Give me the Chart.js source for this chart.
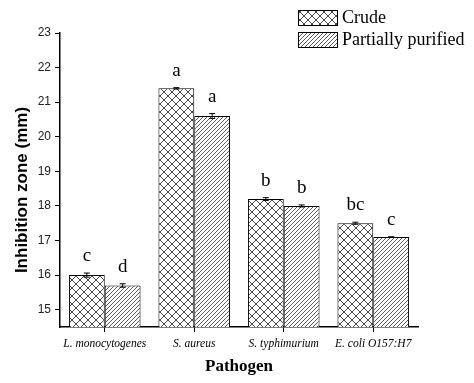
<!DOCTYPE html>
<html><head><meta charset="utf-8">
<script src="https://cdn.jsdelivr.net/npm/chart.js@4"></script>
<style>html,body{margin:0;padding:0;background:#fff;}#wrap{width:474px;height:383px;}</style>
</head><body><div id="wrap"><canvas id="c" width="474" height="383"></canvas></div>
<script>
const categories = ["L. monocytogenes", "S. aureus", "S. typhimurium", "E. coli O157:H7"];
const seriesNames = ["Crude", "Partially purified"];
const crude = [16.0, 21.4, 18.2, 17.5];
const partial = [15.7, 20.6, 18.0, 17.1];
const crudeErr = [0.06, 0.02, 0.04, 0.03];
const partialErr = [0.05, 0.07, 0.03, 0.01];
const crudeLetters = ["c", "a", "b", "bc"];
const partialLetters = ["d", "a", "b", "c"];
const yTicks = [15, 16, 17, 18, 19, 20, 21, 22, 23];
const yTitle = "Inhibition zone (mm)";
const xTitle = "Pathogen";

function makePattern(kind){
  const s = kind === 'cross' ? 8 : 4;
  const cv = document.createElement('canvas'); cv.width = s; cv.height = s;
  const g = cv.getContext('2d');
  g.fillStyle = '#fff'; g.fillRect(0,0,s,s);
  g.strokeStyle = '#333'; g.lineWidth = kind === 'cross' ? 0.9 : 0.8;
  g.beginPath();
  if (kind === 'cross') {
    g.moveTo(-1,-1); g.lineTo(s+1,s+1);
    g.moveTo(-1,s+1); g.lineTo(s+1,-1);
  } else {
    g.moveTo(-1,s+1); g.lineTo(s+1,-1);
    g.moveTo(-1,1); g.lineTo(1,-1);
    g.moveTo(s-1,s+1); g.lineTo(s+1,s-1);
  }
  g.stroke();
  return document.getElementById('c').getContext('2d').createPattern(cv,'repeat');
}
const crossPat = makePattern('cross');
const diagPat = makePattern('diag');

const errLetters = {
  id: 'errLetters',
  afterDatasetsDraw(chart){
    const ctx = chart.ctx, y = chart.scales.y;
    const errs = [crudeErr, partialErr], letters = [crudeLetters, partialLetters], vals = [crude, partial];
    ctx.save();
    for (let d = 0; d < 2; d++){
      const meta = chart.getDatasetMeta(d);
      meta.data.forEach((bar, i) => {
        const x = bar.x;
        const top = y.getPixelForValue(vals[d][i] + errs[d][i]);
        const bot = y.getPixelForValue(vals[d][i] - errs[d][i]);
        ctx.strokeStyle = '#000'; ctx.lineWidth = 1;
        ctx.beginPath();
        ctx.moveTo(x, top); ctx.lineTo(x, bot);
        ctx.moveTo(x-3, top); ctx.lineTo(x+3, top);
        ctx.moveTo(x-3, bot); ctx.lineTo(x+3, bot);
        ctx.stroke();
        ctx.fillStyle = '#000';
        ctx.font = '19px "Liberation Serif", serif';
        ctx.textAlign = 'center'; ctx.textBaseline = 'alphabetic';
        ctx.fillText(letters[d][i], x, top - 12);
      });
    }
    // legend
    const pats = [crossPat, diagPat];
    const ys = [10, 32];
    for (let k = 0; k < 2; k++){
      ctx.fillStyle = pats[k];
      ctx.fillRect(298, ys[k], 39, 15);
      ctx.strokeStyle = '#000'; ctx.lineWidth = 1;
      ctx.strokeRect(298.5, ys[k]+0.5, 39, 15);
      ctx.fillStyle = '#000';
      ctx.font = '18px "Liberation Serif", serif';
      ctx.textAlign = 'left'; ctx.textBaseline = 'middle';
      ctx.fillText(seriesNames[k], 342, ys[k] + 8);
    }
    // y title
    ctx.save();
    ctx.translate(22, 190);
    ctx.rotate(-Math.PI/2);
    ctx.fillStyle = '#000';
    ctx.font = 'bold 17px "Liberation Sans", Arial, sans-serif';
    ctx.textAlign = 'center'; ctx.textBaseline = 'middle';
    ctx.fillText(yTitle, 0, 0);
    ctx.restore();
    ctx.restore();
  }
};

new Chart(document.getElementById('c'), {
  type: 'bar',
  data: {
    labels: categories,
    datasets: [
      { label: seriesNames[0], data: crude, backgroundColor: crossPat, borderColor: '#000', borderWidth: 1, categoryPercentage: 0.8, barPercentage: 1.0 },
      { label: seriesNames[1], data: partial, backgroundColor: diagPat, borderColor: '#000', borderWidth: 1, categoryPercentage: 0.8, barPercentage: 1.0 }
    ]
  },
  options: {
    responsive: false, animation: false,
    layout: { padding: { top: 33, right: 56, left: 0, bottom: 0 } },
    plugins: { legend: { display: false }, tooltip: { enabled: false } },
    scales: {
      x: {
        grid: { display: true, drawOnChartArea: false, drawTicks: true, tickLength: 5, color: '#000', offset: false },
        border: { color: '#000', width: 1.5 },
        ticks: { color: '#000', font: { family: '"Liberation Serif", serif', style: 'italic', size: 11.5 }, padding: 5, maxRotation: 0 },
        title: { display: true, text: xTitle, color: '#000', font: { family: '"Liberation Serif", serif', weight: 'bold', size: 17 }, padding: { top: 8, bottom: 6 } },
        afterFit(s){ s.height = 56; }
      },
      y: {
        min: 14.5, max: 23,
        grid: { display: true, drawOnChartArea: false, drawTicks: true, tickLength: 5, color: '#000' },
        border: { color: '#000', width: 1.5 },
        afterBuildTicks(s){ s.ticks = yTicks.map(v => ({ value: v })); },
        ticks: { color: '#222', font: { family: '"Liberation Sans", Arial, sans-serif', size: 12 }, padding: 4 },
        afterFit(s){ s.width = 60; }
      }
    }
  },
  plugins: [errLetters]
});
</script></body></html>
